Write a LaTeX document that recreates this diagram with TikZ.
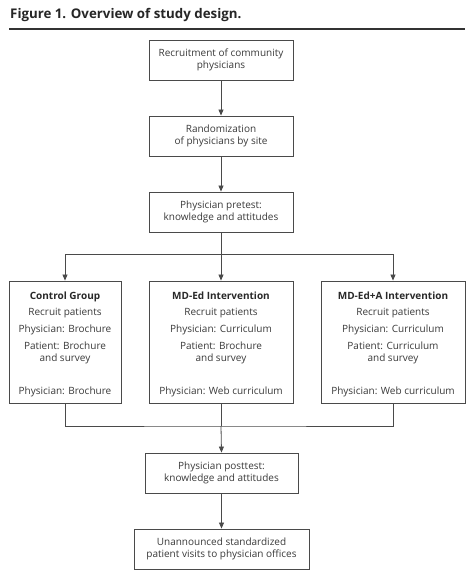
\documentclass[tikz,border=0pt]{standalone}
\usepackage{fontspec}
\setmainfont{Open Sans}
\usetikzlibrary{arrows.meta}
\definecolor{txt}{HTML}{3A3A3A}
\definecolor{ln}{HTML}{4A4A4A}
\begin{document}
\begin{tikzpicture}[x=1pt,y=-1pt,
  boxnode/.style={draw=ln,line width=0.9pt,minimum height=40pt,align=center,inner sep=0pt,text=txt,font=\fontsize{10}{12}\selectfont},
  grpbox/.style={draw=ln,line width=0.9pt,minimum height=122pt,inner sep=0pt},
  ln1/.style={anchor=base,text=txt,inner sep=0pt,font=\fontsize{10}{12}\selectfont,align=center},
  hd/.style={anchor=base,text=txt!70!black,inner sep=0pt,font=\fontsize{10}{12}\selectfont\bfseries},
  conn/.style={draw=ln,line width=0.8pt},
  arr/.style={conn,-{Triangle[length=6pt,width=5pt]}}]
\useasboundingbox (0,0) rectangle (474,578);
\fill[white] (0,0) rectangle (474,578);
% title
\node[anchor=base west,inner sep=0pt,font=\fontsize{13.3}{15}\selectfont\bfseries,text=black!85] (title) at (10,18.5) {Figure 1. Overview of study design.};
\coordinate (rl) at (9,29);
\coordinate (rr) at (465,29);
\draw[line width=1.6pt,black!80] (rl) -- (rr);
% top boxes
\node[boxnode,minimum width=144pt] (b1) at (221,60) {Recruitment of community\\physicians};
\node[boxnode,minimum width=144pt] (b2) at (221,136) {Randomization\\of physicians by site};
\node[boxnode,minimum width=144pt] (b3) at (221,212) {Physician pretest:\\knowledge and attitudes};
% group boxes
\node[grpbox,minimum width=112pt] (gl) at (65,342) {};
\node[grpbox,minimum width=144pt] (gm) at (221,342) {};
\node[grpbox,minimum width=144pt] (gr) at (393,342) {};
% left texts
\node[hd] (gl0) at (65,299) {Control Group};
\node[ln1] (gl1) at (65,315.5) {Recruit patients};
\node[ln1] (gl2) at (65,332.5) {Physician: Brochure};
\node[ln1,anchor=base] (gl3) at (65,349) {Patient: Brochure};
\node[ln1] (gl3b) at (65,361) {and survey};
\node[ln1] (gl4) at (65,394) {Physician: Brochure};
% middle texts
\node[hd] (gm0) at (221,299) {MD-Ed Intervention};
\node[ln1] (gm1) at (221,315.5) {Recruit patients};
\node[ln1] (gm2) at (221,332.5) {Physician: Curriculum};
\node[ln1] (gm3) at (221,349) {Patient: Brochure};
\node[ln1] (gm3b) at (221,361) {and survey};
\node[ln1] (gm4) at (221,394) {Physician: Web curriculum};
% right texts
\node[hd] (gr0) at (393,299) {MD-Ed+A Intervention};
\node[ln1] (gr1) at (393,315.5) {Recruit patients};
\node[ln1] (gr2) at (393,332.5) {Physician: Curriculum};
\node[ln1] (gr3) at (393,349) {Patient: Curriculum};
\node[ln1] (gr3b) at (393,361) {and survey};
\node[ln1] (gr4) at (393,394) {Physician: Web curriculum};
% bottom boxes
\node[boxnode,minimum width=153pt] (b4) at (221.5,473) {Physician posttest:\\knowledge and attitudes};
\node[boxnode,minimum width=175pt] (b5) at (221.5,549) {Unannounced standardized\\patient visits to physician offices};
% connectors
\draw[arr] (b1) -- (b2);
\draw[arr] (b2) -- (b3);
\coordinate (sp) at (221,254);
\draw[arr] (b3.south) -- (gm.north);
\draw[arr] (b3.south) |- (sp) -| (gl.north);
\draw[arr] (sp) -| (gr.north);
\coordinate (jn) at (221,426);
\draw[conn] (gl.south) |- (jn) -| (gr.south);
\draw[conn] (gm.south) -- (jn);
\draw[arr] (jn) -- (b4.north);
\draw[arr] (b4) -- (b5);
\end{tikzpicture}
\end{document}
